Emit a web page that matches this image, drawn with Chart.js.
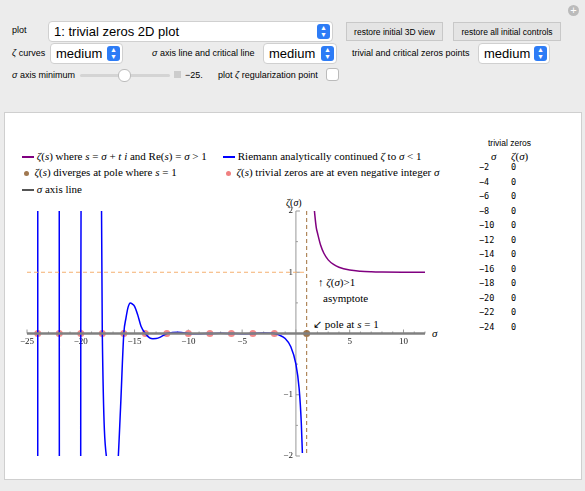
<!DOCTYPE html>
<html><head><meta charset="utf-8">
<script src="https://cdn.jsdelivr.net/npm/chart.js@4"></script>
<style>
body{margin:0;width:585px;height:491px;background:#ececec;font-family:"Liberation Sans",Arial,sans-serif;position:relative;overflow:hidden}
.a{position:absolute;white-space:nowrap}
.sel{position:absolute;background:#fff;border:1px solid #d0d0d0;border-radius:4px;font-size:13px;padding:0 0 0 5px;box-sizing:border-box;height:21px;line-height:20px}
.sel i{position:absolute;right:2px;top:2px;width:13px;height:15px;background:#2d7cf6;border-radius:3px;color:#fff;font-size:7px;line-height:7px;text-align:center;font-style:normal}
.btn{position:absolute;background:#e4e4e4;border:1px solid #c8c8c8;font-size:8.5px;height:19px;line-height:19px;text-align:center;box-sizing:border-box}
.s{font-size:9px}
.ser{font-family:"Liberation Serif","Times New Roman",serif;font-size:11px}
.mono{font-family:"DejaVu Sans Mono",monospace;font-size:8.5px}
#frame{position:absolute;left:4px;top:112px;width:576px;height:366px;background:#fff;border:1px solid #cfcfcf}
canvas{position:absolute;left:0;top:0}
</style></head><body>
<div class="a" style="left:568px;top:5px;width:11px;height:11px;border-radius:6px;background:#bbb;color:#fff;font-size:11px;line-height:11px;text-align:center">+</div>
<div class="a s" style="left:12px;top:25px">plot</div>
<div class="sel" style="left:48px;top:21px;width:285px">1: trivial zeros 2D plot<i>▲<br>▼</i></div>
<div class="btn" style="left:346px;top:22px;width:97px">restore initial 3D view</div>
<div class="btn" style="left:453px;top:22px;width:108px">restore all initial controls</div>
<div class="a s" style="left:12px;top:48px"><i>ζ</i> curves</div>
<div class="sel" style="left:50px;top:43px;width:73px">medium<i>▲<br>▼</i></div>
<div class="a s" style="left:152px;top:48px"><i>σ</i> axis line and critical line</div>
<div class="sel" style="left:263px;top:43px;width:74px">medium<i>▲<br>▼</i></div>
<div class="a s" style="left:352px;top:48px">trivial and critical zeros points</div>
<div class="sel" style="left:478px;top:43px;width:72px">medium<i>▲<br>▼</i></div>
<div class="a s" style="left:12px;top:70px"><i>σ</i> axis minimum</div>
<div class="a" style="left:80px;top:74px;width:90px;height:3px;background:#d4d4d4;border-radius:2px"></div>
<div class="a" style="left:118px;top:69px;width:11px;height:11px;border-radius:6px;background:#fff;border:1px solid #bbb"></div>
<div class="a" style="left:174px;top:71px;width:7px;height:7px;background:#ccc"></div>
<div class="a s" style="left:185px;top:70px">−25.</div>
<div class="a s" style="left:218px;top:70px">plot <i>ζ</i> regularization point</div>
<div class="a" style="left:326px;top:68px;width:11px;height:11px;border:1px solid #bbb;border-radius:3px;background:#fff"></div>
<div id="frame"></div>
<div class="a ser" style="left:22px;top:150px"><span style="display:inline-block;width:12px;height:2px;background:#800080;vertical-align:middle"></span> <i>ζ</i>(<i>s</i>) where <i>s</i> = <i>σ</i> + <i>t i</i> and Re(<i>s</i>) = <i>σ</i> &gt; 1</div>
<div class="a ser" style="left:223px;top:150px"><span style="display:inline-block;width:12px;height:2px;background:#0000ff;vertical-align:middle"></span> Riemann analytically continued <i>ζ</i> to <i>σ</i> &lt; 1</div>
<div class="a ser" style="left:24px;top:166px"><span style="display:inline-block;width:5px;height:5px;border-radius:3px;background:#a07850;vertical-align:middle"></span> &nbsp;<i>ζ</i>(<i>s</i>) diverges at pole where <i>s</i> = 1</div>
<div class="a ser" style="left:226px;top:166px"><span style="display:inline-block;width:5px;height:5px;border-radius:3px;background:#f08080;vertical-align:middle"></span> &nbsp;<i>ζ</i>(<i>s</i>) trivial zeros are at even negative integer <i>σ</i></div>
<div class="a ser" style="left:22px;top:183px"><span style="display:inline-block;width:12px;height:2px;background:#555;vertical-align:middle"></span> <i>σ</i> axis line</div>
<div class="a" style="left:488px;top:138px;font-size:8.5px">trivial zeros</div>
<div class="a ser" style="left:491px;top:150px;font-size:11px"><i>σ</i></div>
<div class="a ser" style="left:511px;top:150px;font-size:11px"><i>ζ</i>(<i>σ</i>)</div>
<div id="tbl"></div>
<div class="a ser" style="left:286px;top:197px;font-size:10px"><i>ζ</i>(<i>σ</i>)</div>
<div class="a ser" style="left:432px;top:327px;font-size:11px"><i>σ</i></div>
<div class="a ser" style="left:318px;top:276px">↑ <i>ζ</i>(<i>σ</i>)&gt;1</div>
<div class="a ser" style="left:323px;top:292px">asymptote</div>
<div class="a ser" style="left:313px;top:318px">↙ pole at <i>s</i> = 1</div>
<canvas id="c" width="585" height="491"></canvas>
<script>
const zeroSigma=[-2,-4,-6,-8,-10,-12,-14,-16,-18,-20,-22,-24];
const zeroValue=[0,0,0,0,0,0,0,0,0,0,0,0];
const blueX=[-25,-24.5,-24,-23.5,-23,-22.5,-22,-21.5,-21,-20.5,-20,-19.5,-19,-18.5,-18,-17.5,-17,-16.6,-16.3,-16,-15.8,-15.6,-15.4,-15.2,-15,-14.7,-14.4,-14,-13.6,-13.3,-13,-12.6,-12,-11.5,-11,-10.5,-10,-9,-8,-7,-6,-5,-4,-3,-2,-1.5,-1,-0.5,0,0.3,0.5,0.6];
const blueY=[-54827,-25000,0,2000,3607,1900,0,-150,-281,-150,0,15,26.5,15,0,-2.2,-3.05,-2.3,-1.2,0,0.25,0.43,0.5,0.48,0.443,0.3,0.12,0,-0.07,-0.085,-0.083,-0.06,0,0.016,0.021,0.012,0,-0.004,0,0.004,0,-0.004,0,0.008,0,-0.03,-0.083,-0.208,-0.5,-0.9,-1.46,-1.95];
const purpleX=[1.65,1.75,1.9,2,2.3,2.6,3,3.5,4,5,6,7,8,10,12];
const purpleY=[2.15,1.95,1.72,1.645,1.44,1.31,1.202,1.127,1.082,1.037,1.017,1.008,1.004,1.001,1.0002];
const tb=document.getElementById('tbl');
zeroSigma.forEach((s,i)=>{const d=document.createElement('div');d.className='a mono';d.style.left='479px';d.style.top=(162+i*14.5)+'px';d.innerHTML='−'+(-s)+'<span style="position:absolute;left:32px">0</span>';tb.appendChild(d);});
const pts=(xs,ys)=>xs.map((x,i)=>({x,y:ys[i]}));
const axes={id:'axes',beforeDatasetsDraw(ch){const c=ch.ctx,x=ch.scales.x,y=ch.scales.y;c.save();
 c.strokeStyle='#999';c.lineWidth=1;const y0=y.getPixelForValue(0),x0=x.getPixelForValue(0);
 c.beginPath();c.moveTo(x.left,y0);c.lineTo(x.right,y0);c.moveTo(x0,y.top);c.lineTo(x0,y.bottom);c.stroke();
 c.fillStyle='#222';c.font='9px "Liberation Serif",serif';c.textAlign='center';c.textBaseline='top';
 for(let v=-25;v<=12;v++){const p=x.getPixelForValue(v),L=v%5===0?4:2;c.beginPath();c.moveTo(p,y0);c.lineTo(p,y0-L);c.stroke();if(v%5===0&&v!==0)c.fillText(v<0?'−'+(-v):v,p,y0+4);}
 c.textAlign='right';c.textBaseline='middle';
 for(let v=-2;v<=2;v+=0.5){const p=y.getPixelForValue(v),L=Number.isInteger(v)?4:2;c.beginPath();c.moveTo(x0,p);c.lineTo(x0+L,p);c.stroke();if(Number.isInteger(v)&&v!==0)c.fillText(v<0?'−'+(-v):v,x0-3,p);}
 c.restore();}};
new Chart(document.getElementById('c'),{type:'scatter',
 data:{datasets:[
 {data:[{x:-25,y:0},{x:12,y:0}],showLine:true,borderColor:'#808080',borderWidth:2.5,pointRadius:0},
 {data:[{x:-25,y:1},{x:1,y:1}],showLine:true,borderColor:'#f5b070',borderWidth:1,borderDash:[4,3],pointRadius:0},
 {data:[{x:1,y:2},{x:1,y:-2.05}],showLine:true,borderColor:'#a0703a',borderWidth:1,borderDash:[4,3],pointRadius:0},
 {data:pts(blueX,blueY),showLine:true,borderColor:'#0000ff',borderWidth:1.5,pointRadius:0,tension:0.4,cubicInterpolationMode:'monotone'},
 {data:pts(purpleX,purpleY),showLine:true,borderColor:'#800080',borderWidth:1.5,pointRadius:0,cubicInterpolationMode:'monotone'},
 {data:pts(zeroSigma,zeroValue),pointRadius:3.5,backgroundColor:'#f48a8a',borderColor:'#f48a8a',pointBorderWidth:0},
 {data:[{x:1,y:0}],pointRadius:3.5,backgroundColor:'#a07850',borderColor:'#a07850',pointBorderWidth:0}
 ]},
 options:{animation:false,responsive:false,plugins:{legend:{display:false},tooltip:{enabled:false}},
 layout:{padding:{left:27,right:160,top:211,bottom:35}},
 scales:{x:{type:'linear',min:-25,max:12,display:false},y:{min:-2,max:2,display:false}}},
 plugins:[axes]});
</script></body></html>
